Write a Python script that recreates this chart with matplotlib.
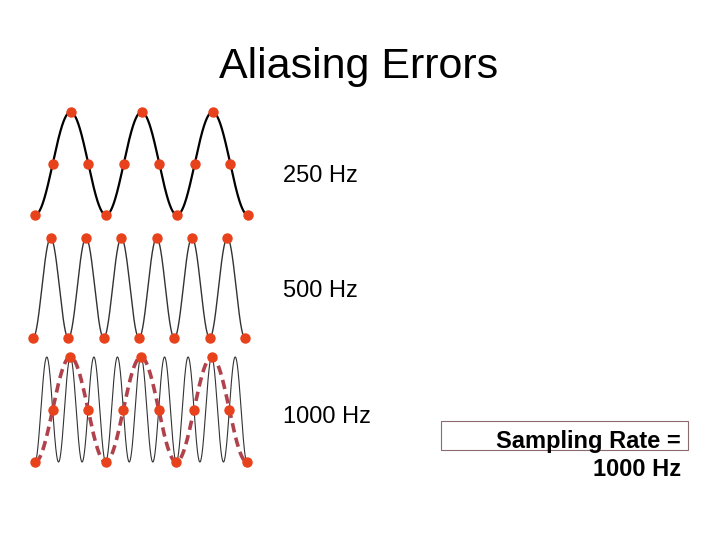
import numpy as np
import matplotlib.pyplot as plt
from matplotlib.patches import Rectangle

plt.rcParams['font.family'] = ['Liberation Sans', 'DejaVu Sans']

# Abtastung mit 1000 Hz, Zeit in ms
sample_t = np.arange(0, 13)  # 13 Abtastpunkte, 0..12 ms

# Abgetastete Werte je Panel (normierte Amplitude)
samples_250 = [-1, 0, 1, 0, -1, 0, 1, 0, -1, 0, 1, 0, -1]
samples_500 = [-1, 1, -1, 1, -1, 1, -1, 1, -1, 1, -1, 1, -1]
samples_alias = [-1, 0, 1, 0, -1, 0, 1, 0, -1, 0, 1, 0, -1]

# Frequenzen der gezeichneten Kurven in Hz
freq_top = 250
freq_mid = 500
freq_bottom = 750   # gezeichnete Schwingung im unteren Panel
freq_alias = 250    # sichtbares Alias

labels = ['250 Hz', '500 Hz', '1000 Hz']

dot_color = '#e8421c'
dash_color = '#b0424c'

t = np.linspace(0, 12, 2000)


def wave(freq):
    # Start im Minimum wie auf der Folie
    return -np.cos(2 * np.pi * freq * t / 1000)


fig = plt.figure(figsize=(7.2, 5.4), dpi=100)

W, H = 720, 540


def panel(x0, x1, ytop, ybot):
    ax = fig.add_axes([x0 / W, 1 - ybot / H, (x1 - x0) / W, (ybot - ytop) / H])
    ax.set_xlim(0, 12)
    ax.set_ylim(-1, 1)
    ax.axis('off')
    return ax


# 250 Hz
ax1 = panel(35, 248, 112, 215)
ax1.plot(t, wave(freq_top), color='black', lw=1.6, clip_on=False)
ax1.plot(sample_t, samples_250, 'o', color=dot_color, ms=6.5, clip_on=False)

# 500 Hz
ax2 = panel(33, 245, 238, 338)
ax2.plot(t, wave(freq_mid), color='#333333', lw=1.0, clip_on=False)
ax2.plot(sample_t, samples_500, 'o', color=dot_color, ms=6.5, clip_on=False)

# "1000 Hz" mit Alias
ax3 = panel(35, 247, 357, 462)
ax3.plot(t, wave(freq_bottom), color='#333333', lw=0.8, clip_on=False)
ax3.plot(t, wave(freq_alias), color=dash_color, lw=2.6, ls=(0, (2.6, 1.5)), clip_on=False)
ax3.plot(sample_t, samples_alias, 'o', color=dot_color, ms=6.5, clip_on=False)

# Beschriftungen
fig.text(359 / W, 1 - 78 / H, 'Aliasing Errors', ha='center', va='baseline', fontsize=31)
for lab, y in zip(labels, [182, 297, 423]):
    fig.text(283 / W, 1 - y / H, lab, ha='left', va='baseline', fontsize=17)

fig.patches.append(Rectangle((441 / W, 1 - 450 / H), 247 / W, 29 / H,
                             transform=fig.transFigure, fill=False,
                             edgecolor='#8a6a6a', lw=0.8))
fig.text(681 / W, 1 - 448 / H, 'Sampling Rate =', ha='right', va='baseline',
         fontsize=17, fontweight='bold')
fig.text(681 / W, 1 - 476 / H, '1000 Hz', ha='right', va='baseline',
         fontsize=17, fontweight='bold')

fig.savefig('out.png', dpi=100)
